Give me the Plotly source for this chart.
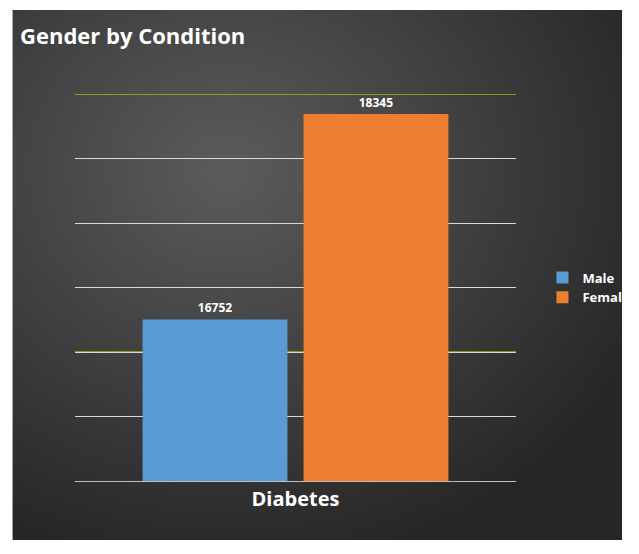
import plotly.graph_objects as go
import numpy as np, zlib, struct, base64

categories = ["Diabetes"]
series_names = ["Male", "Female"]
male_values = [16752]
female_values = [18345]
colors = ["#5b9bd5", "#ed7d31"]

# radial gradient background PNG
W, H = 308, 265
yy, xx = np.mgrid[0:H, 0:W]
d = np.sqrt(((xx - W * 0.35) / W) ** 2 + ((yy - H * 0.3) / H) ** 2)
v = np.clip(92 - d * 70, 38, 92).astype(np.uint8)
raw = b"".join(b"\x00" + bytes(np.repeat(row, 3)) for row in v)
def chunk(t, data):
    c = struct.pack(">I", len(data)) + t + data
    return c + struct.pack(">I", zlib.crc32(t + data) & 0xffffffff)
png = b"\x89PNG\r\n\x1a\n" + chunk(b"IHDR", struct.pack(">IIBBBBB", W, H, 8, 2, 0, 0, 0)) + chunk(b"IDAT", zlib.compress(raw)) + chunk(b"IEND", b"")
uri = "data:image/png;base64," + base64.b64encode(png).decode()

fig = go.Figure()
for name, vals, col in zip(series_names, [male_values, female_values], colors):
    fig.add_trace(go.Bar(x=categories, y=vals, name="<b>" + name + "</b>", marker=dict(color=col, line=dict(width=0)),
                         text=["<b>" + str(v) + "</b>" for v in vals], textposition="outside",
                         textfont=dict(color="white", size=12, family="Open Sans"), cliponaxis=False))

for yv in [16000, 16500, 18500]:
    fig.add_shape(type="line", xref="paper", x0=0, x1=1, y0=yv, y1=yv, line=dict(color="#e6e600", width=1), layer="between")

fig.update_layout(
    width=639, height=554, paper_bgcolor="white", plot_bgcolor="rgba(0,0,0,0)",
    margin=dict(l=67, r=127, t=86, b=81),
    barmode="group", bargap=0.27, bargroupgap=0.1,
    title=dict(text="<b>Gender by Condition</b>", x=12/639, xanchor="left", y=1-28/554, yanchor="middle",
               font=dict(color="white", size=22, family="Open Sans")),
    xaxis=dict(showline=True, linecolor="#bfbfbf", ticks="", tickfont=dict(color="white", size=20, family="Open Sans"),
               tickprefix="<b>", ticksuffix="</b>"),
    yaxis=dict(range=[15500, 18500], dtick=500, showticklabels=False, gridcolor="#d9d9d9", gridwidth=1, zeroline=False),
    legend=dict(x=1.06, y=0.5, yanchor="middle", font=dict(color="white", size=13, family="Open Sans"),
                bgcolor="rgba(0,0,0,0)", itemwidth=30),
    images=[dict(source=uri, xref="paper", yref="paper", x=-63/445, y=1+84/387, sizex=615/445, sizey=530/387,
                 xanchor="left", yanchor="top", sizing="stretch", layer="below")],
)
fig.write_html("out.html")
